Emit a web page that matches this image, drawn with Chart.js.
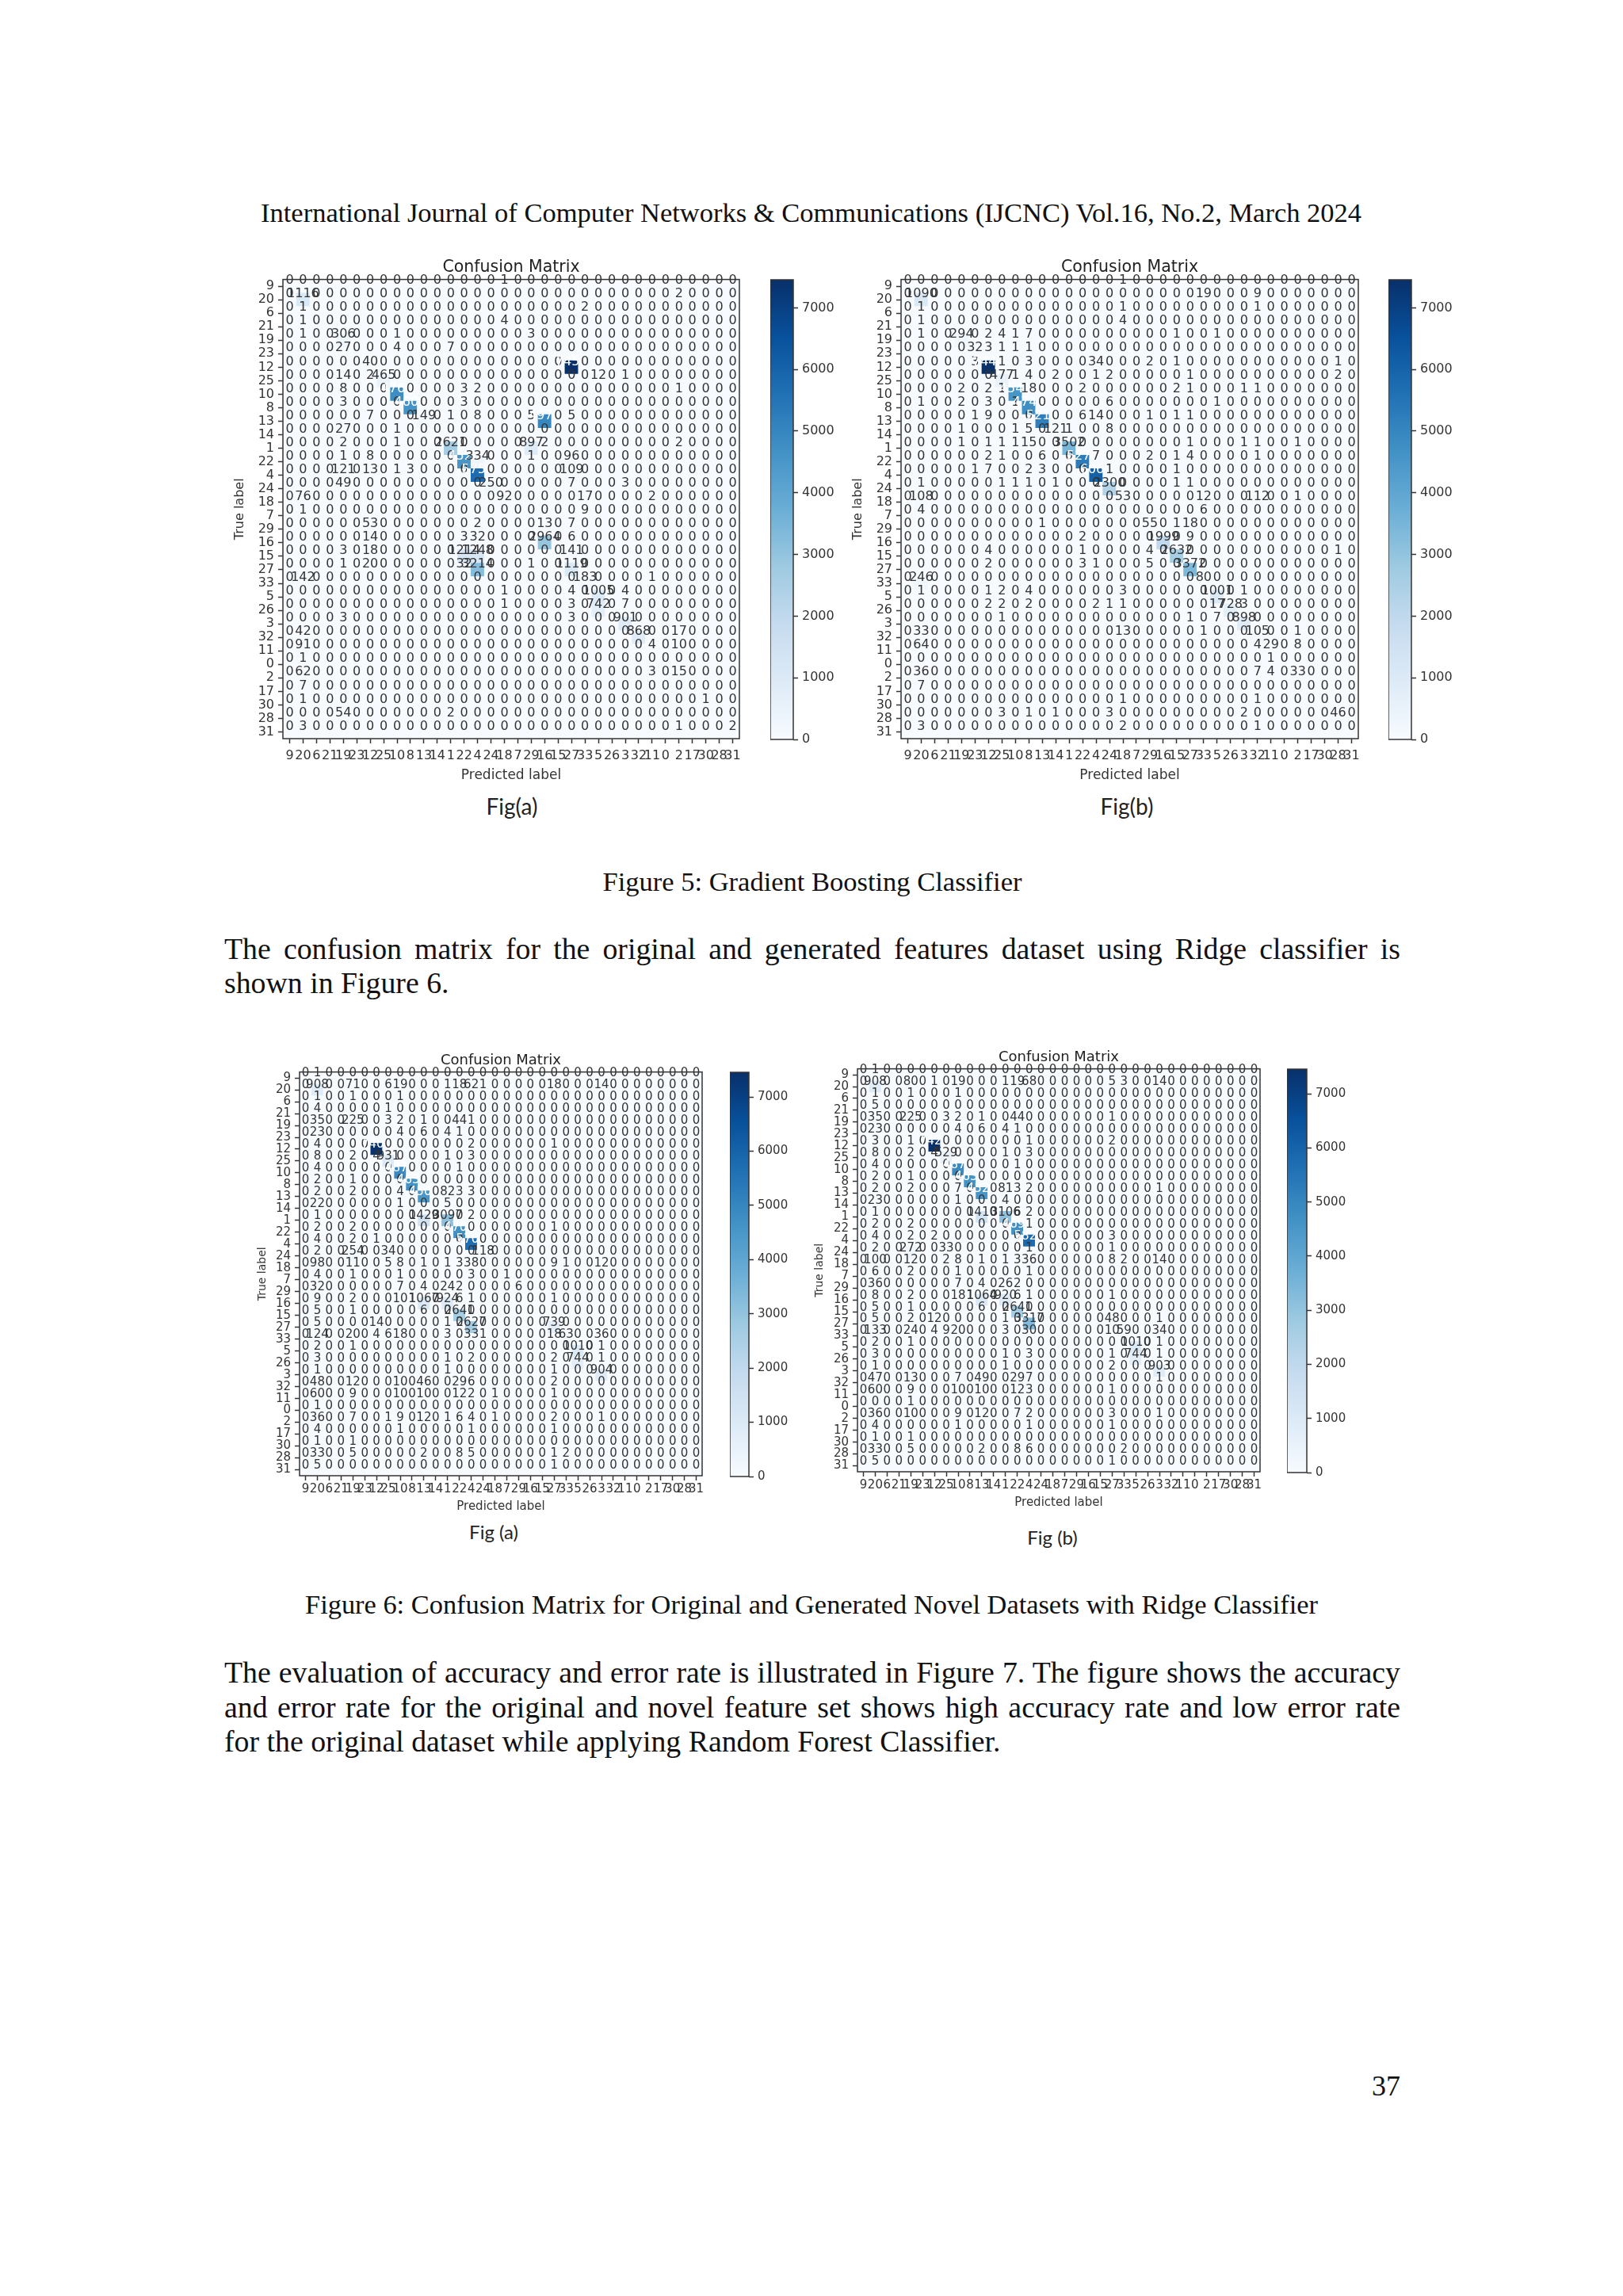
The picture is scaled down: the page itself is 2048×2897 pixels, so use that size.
<!DOCTYPE html>
<html lang="en">
<head>
    <meta charset="UTF-8">
    <title>Confusion matrices - IJCNC Vol.16, No.2, March 2024</title>
    <script src="https://cdn.jsdelivr.net/npm/chart.js@4"></script>
    <style>
        html, body { margin: 0; background: #fff; }
        body { position: relative; width: 2048px; height: 2897px; overflow: hidden; }
        canvas { position: absolute; filter: blur(0.5px); }
        .txt { position: absolute; font-family: "Liberation Serif", serif; color: #111; white-space: nowrap; }
        .body { left: 283px; width: 1484px; font-size: 37.8px; line-height: 44px; text-align: justify; text-align-last: justify; }
        .last { text-align-last: left; }
        .fig { font-family: Lato, sans-serif; color: #222; }
    </style>
</head>
<body>
    <div class="txt" style="left:329px;top:250px;font-size:34.5px;line-height:36px">International Journal of Computer Networks &amp; Communications (IJCNC) Vol.16, No.2, March 2024</div>

    <div class="txt fig" style="left:646px;top:1017px;font-size:28px;line-height:30px;transform:translate(-50%,-50%)">Fig(a)</div>
    <div class="txt fig" style="left:1422px;top:1017px;font-size:28px;line-height:30px;transform:translate(-50%,-50%)">Fig(b)</div>
    <div class="txt" style="left:1025px;top:1091px;font-size:34.5px;line-height:42px;transform:translateX(-50%)">Figure 5: Gradient Boosting Classifier</div>

    <div class="txt body" style="top:1175px">The confusion matrix for the original and generated features dataset using Ridge classifier is</div>
    <div class="txt body last" style="top:1218px">shown in Figure 6.</div>

    <div class="txt fig" style="left:623px;top:1933px;font-size:24px;line-height:30px;transform:translate(-50%,-50%)">Fig (a)</div>
    <div class="txt fig" style="left:1328px;top:1940px;font-size:24px;line-height:30px;transform:translate(-50%,-50%)">Fig (b)</div>
    <div class="txt" style="left:1024px;top:2003px;font-size:34.4px;line-height:42px;transform:translateX(-50%)">Figure 6: Confusion Matrix for Original and Generated Novel Datasets with Ridge Classifier</div>

    <div class="txt body" style="top:2088px">The evaluation of accuracy and error rate is illustrated in Figure 7. The figure shows the accuracy</div>
    <div class="txt body" style="top:2132px">and error rate for the original and novel feature set shows high accuracy rate and low error rate</div>
    <div class="txt body last" style="top:2175px">for the original dataset while applying Random Forest Classifier.</div>

    <div class="txt" style="left:1731px;top:2612px;font-size:36px;line-height:40px">37</div>

    <script>
        // class order used on both axes of every matrix
        var classLabels = ['9','20','6','21','19','23','12','25','10','8','13','14','1','22','4','24','18','7','29','16','15','27','33','5','26','3','32','11','0','2','17','30','28','31'];
        var colorbarTicks = [0, 1000, 2000, 3000, 4000, 5000, 6000, 7000];
        var colorbarMax = 7455;
        var blues = ['#f7fbff','#deebf7','#c6dbef','#9ecae1','#6baed6','#4292c6','#2171b5','#08519c','#08306b'];

        // Fig 5(a) gradient boosting, original features
        var matrixA = [
            [0,0,0,0,0,0,0,0,0,0, 0,0,0,0,0,0,1,0,0,0, 0,0,0,0,0,0,0,0,0,0, 0,0,0,0],
            [0,1116,0,0,0,0,0,0,0,0, 0,0,0,0,0,0,0,0,0,0, 0,0,0,0,0,0,0,0,0,2, 0,0,0,0],
            [0,1,0,0,0,0,0,0,0,0, 0,0,0,0,0,0,0,0,0,0, 0,0,2,0,0,0,0,0,0,0, 0,0,0,0],
            [0,1,0,0,0,0,0,0,0,0, 0,0,0,0,0,0,4,0,0,0, 0,0,0,0,0,0,0,0,0,0, 0,0,0,0],
            [0,1,0,0,306,0,0,0,1,0, 0,0,0,0,0,0,0,0,3,0, 0,0,0,0,0,0,0,0,0,0, 0,0,0,0],
            [0,0,0,0,27,0,0,0,4,0, 0,0,7,0,0,0,0,0,0,0, 0,0,0,0,0,0,0,0,0,0, 0,0,0,0],
            [0,0,0,0,0,0,40,0,0,0, 0,0,0,0,0,0,0,0,0,0, 0,7455,0,0,0,0,0,0,0,0, 0,0,0,0],
            [0,0,0,0,14,0,2,465,0,0, 0,0,0,0,0,0,0,0,0,0, 0,0,0,12,0,1,0,0,0,0, 0,0,0,0],
            [0,0,0,0,8,0,0,0,4760,0, 0,0,0,3,2,0,0,0,0,0, 0,0,0,0,0,0,0,0,0,1, 0,0,0,0],
            [0,0,0,0,3,0,0,0,0,4600, 0,0,0,3,0,0,0,0,0,0, 0,0,0,0,0,0,0,0,0,0, 0,0,0,0],
            [0,0,0,0,0,0,7,0,0,0, 149,0,1,0,8,0,0,0,5,4970, 0,5,0,0,0,0,0,0,0,0, 0,0,0,0],
            [0,0,0,0,27,0,0,0,1,0, 0,0,0,0,0,0,0,0,0,0, 0,0,0,0,0,0,0,0,0,0, 0,0,0,0],
            [0,0,0,0,2,0,0,0,1,0, 0,0,2621,0,0,0,0,0,897,2, 0,0,0,0,0,0,0,0,0,2, 0,0,0,0],
            [0,0,0,0,1,0,8,0,0,0, 0,0,0,4520,334,0,0,0,1,0, 0,96,0,0,0,0,0,0,0,0, 0,0,0,0],
            [0,0,0,0,121,0,13,0,1,3, 0,0,0,0,5750,0,0,0,0,0, 0,109,0,0,0,0,0,0,0,0, 0,0,0,0],
            [0,0,0,0,49,0,0,0,0,0, 0,0,0,0,0,250,0,0,0,0, 0,7,0,0,0,3,0,0,0,0, 0,0,0,0],
            [0,76,0,0,0,0,0,0,0,0, 0,0,0,0,0,0,92,0,0,0, 0,0,17,0,0,0,0,2,0,0, 0,0,0,0],
            [0,1,0,0,0,0,0,0,0,0, 0,0,0,0,0,0,0,0,0,0, 0,0,9,0,0,0,0,0,0,0, 0,0,0,0],
            [0,0,0,0,0,0,53,0,0,0, 0,0,0,0,2,0,0,0,0,13, 0,7,0,0,0,0,0,0,0,0, 0,0,0,0],
            [0,0,0,0,0,0,14,0,0,0, 0,0,0,3,32,0,0,0,0,2964, 0,6,0,0,0,0,0,0,0,0, 0,0,0,0],
            [0,0,0,0,3,0,18,0,0,0, 0,0,0,1214,1248,0,0,0,0,0, 0,141,0,0,0,0,0,0,0,0, 0,0,0,0],
            [0,0,0,0,1,0,20,0,0,0, 0,0,0,32,3214,0,0,0,1,0, 0,1119,0,0,0,0,0,0,0,0, 0,0,0,0],
            [0,142,0,0,0,0,0,0,0,0, 0,0,0,0,0,0,0,0,0,0, 0,0,183,0,0,0,0,1,0,0, 0,0,0,0],
            [0,0,0,0,0,0,0,0,0,0, 0,0,0,0,0,0,1,0,0,0, 0,4,0,1005,0,4,0,0,0,0, 0,0,0,0],
            [0,0,0,0,0,0,0,0,0,0, 0,0,0,0,0,0,1,0,0,0, 0,3,0,742,0,7,0,0,0,0, 0,0,0,0],
            [0,0,0,0,3,0,0,0,0,0, 0,0,0,0,0,0,0,0,0,0, 0,3,0,0,0,901,0,0,0,0, 0,0,0,0],
            [0,42,0,0,0,0,0,0,0,0, 0,0,0,0,0,0,0,0,0,0, 0,0,0,0,0,0,868,0,0,17, 0,0,0,0],
            [0,91,0,0,0,0,0,0,0,0, 0,0,0,0,0,0,0,0,0,0, 0,0,0,0,0,0,0,4,0,10, 0,0,0,0],
            [0,1,0,0,0,0,0,0,0,0, 0,0,0,0,0,0,0,0,0,0, 0,0,0,0,0,0,0,0,0,0, 0,0,0,0],
            [0,62,0,0,0,0,0,0,0,0, 0,0,0,0,0,0,0,0,0,0, 0,0,0,0,0,0,0,3,0,15, 0,0,0,0],
            [0,7,0,0,0,0,0,0,0,0, 0,0,0,0,0,0,0,0,0,0, 0,0,0,0,0,0,0,0,0,0, 0,0,0,0],
            [0,1,0,0,0,0,0,0,0,0, 0,0,0,0,0,0,0,0,0,0, 0,0,0,0,0,0,0,0,0,0, 0,1,0,0],
            [0,0,0,0,54,0,0,0,0,0, 0,0,2,0,0,0,0,0,0,0, 0,0,0,0,0,0,0,0,0,0, 0,0,0,0],
            [0,3,0,0,0,0,0,0,0,0, 0,0,0,0,0,0,0,0,0,0, 0,0,0,0,0,0,0,0,0,1, 0,0,0,2]
        ];

        // Fig 5(b) gradient boosting, generated features
        var matrixB = [
            [0,0,0,0,0,0,0,0,0,0, 0,0,0,0,0,0,1,0,0,0, 0,0,0,0,0,0,0,0,0,0, 0,0,0,0],
            [0,1090,0,0,0,0,0,0,0,0, 0,0,0,0,0,0,0,0,0,0, 0,0,19,0,0,0,9,0,0,0, 0,0,0,0],
            [0,1,0,0,0,0,0,0,0,0, 0,0,0,0,0,0,1,0,0,0, 0,0,0,0,0,0,1,0,0,0, 0,0,0,0],
            [0,1,0,0,0,0,0,0,0,0, 0,0,0,0,0,0,4,0,0,0, 0,0,0,0,0,0,0,0,0,0, 0,0,0,0],
            [0,1,0,0,294,0,2,4,1,7, 0,0,0,0,0,0,0,0,0,0, 1,0,0,1,0,0,0,0,0,0, 0,0,0,0],
            [0,0,0,0,0,32,3,1,1,1, 0,0,0,0,0,0,0,0,0,0, 0,0,0,0,0,0,0,0,0,0, 0,0,0,0],
            [0,0,0,0,0,3,7440,1,0,3, 0,0,0,0,34,0,0,0,2,0, 1,0,0,0,0,0,0,0,0,0, 0,0,1,0],
            [0,0,0,0,0,0,0,477,1,4, 0,2,0,0,1,2,0,0,0,0, 0,1,0,0,0,0,0,0,0,0, 0,0,2,0],
            [0,0,0,0,2,0,2,1,4540,18, 0,0,0,2,0,0,0,0,0,0, 2,1,0,0,0,1,1,0,0,0, 0,0,0,0],
            [0,1,0,0,2,0,3,0,1,4740, 0,0,0,0,0,6,0,0,0,0, 0,0,0,1,0,0,0,0,0,0, 0,0,0,0],
            [0,0,0,0,0,1,9,0,0,0, 5210,0,0,6,14,0,0,0,1,0, 1,1,0,0,0,0,0,0,0,0, 0,0,0,0],
            [0,0,0,0,1,0,0,0,1,5, 0,121,1,0,0,8,0,0,0,0, 0,0,0,0,0,0,0,0,0,0, 0,0,0,0],
            [0,0,0,0,1,0,1,1,1,15, 0,0,3502,0,0,0,0,0,0,0, 0,1,0,0,0,1,1,0,0,1, 0,0,0,0],
            [0,0,0,0,0,0,2,1,0,0, 6,0,0,5270,7,0,0,0,2,0, 1,4,0,0,0,0,1,0,0,0, 0,0,0,0],
            [0,0,0,0,0,1,7,0,0,2, 3,0,0,0,6060,1,0,0,0,0, 1,0,0,0,0,0,0,0,0,0, 0,0,0,0],
            [0,1,0,0,0,0,0,1,1,1, 0,1,0,0,0,2300,0,0,0,0, 1,1,0,0,0,0,0,0,0,0, 0,0,0,0],
            [0,108,0,0,0,0,0,0,0,0, 0,0,0,0,0,0,53,0,0,0, 0,0,12,0,0,0,112,0,0,1, 0,0,0,0],
            [0,4,0,0,0,0,0,0,0,0, 0,0,0,0,0,0,0,0,0,0, 0,0,6,0,0,0,0,0,0,0, 0,0,0,0],
            [0,0,0,0,0,0,0,0,0,0, 1,0,0,0,0,0,0,0,55,0, 1,18,0,0,0,0,0,0,0,0, 0,0,0,0],
            [0,0,0,0,0,0,0,0,0,0, 0,0,0,2,0,0,0,0,0,1999, 0,9,0,0,0,0,0,0,0,0, 0,0,0,0],
            [0,0,0,0,0,0,4,0,0,0, 0,0,0,1,0,0,0,0,4,0, 2632,0,0,0,0,0,0,0,0,0, 0,0,1,0],
            [0,0,0,0,0,0,2,0,0,0, 0,0,0,3,1,0,0,0,5,0, 0,3372,0,0,0,0,0,0,0,0, 0,0,0,0],
            [0,246,0,0,0,0,0,0,0,0, 0,0,0,0,0,0,0,0,0,0, 0,0,80,0,0,0,0,0,0,0, 0,0,0,0],
            [0,1,0,0,0,0,1,2,0,4, 0,0,0,0,0,0,3,0,0,0, 0,0,0,1001,0,1,0,0,0,0, 0,0,0,0],
            [0,0,0,0,0,0,2,2,0,2, 0,0,0,0,2,1,1,0,0,0, 0,0,0,17,728,3,0,0,0,0, 0,0,0,0],
            [0,0,0,0,0,0,0,1,0,0, 0,0,0,0,0,0,0,0,0,0, 0,1,0,7,0,898,0,0,0,0, 0,0,0,0],
            [0,33,0,0,0,0,0,0,0,0, 0,0,0,0,0,0,13,0,0,0, 0,0,1,0,0,0,105,0,0,1, 0,0,0,0],
            [0,64,0,0,0,0,0,0,0,0, 0,0,0,0,0,0,0,0,0,0, 0,0,0,0,0,0,4,29,0,8, 0,0,0,0],
            [0,0,0,0,0,0,0,0,0,0, 0,0,0,0,0,0,0,0,0,0, 0,0,0,0,0,0,0,1,0,0, 0,0,0,0],
            [0,36,0,0,0,0,0,0,0,0, 0,0,0,0,0,0,0,0,0,0, 0,0,0,0,0,0,7,4,0,33, 0,0,0,0],
            [0,7,0,0,0,0,0,0,0,0, 0,0,0,0,0,0,0,0,0,0, 0,0,0,0,0,0,0,0,0,0, 0,0,0,0],
            [0,0,0,0,0,0,0,0,0,0, 0,0,0,0,0,0,1,0,0,0, 0,0,0,0,0,0,1,0,0,0, 0,0,0,0],
            [0,0,0,0,0,0,0,3,0,1, 0,1,0,0,0,3,0,0,0,0, 0,0,0,0,0,2,0,0,0,0, 0,0,46,0],
            [0,3,0,0,0,0,0,0,0,0, 0,0,0,0,0,0,2,0,0,0, 0,0,0,0,0,0,1,0,0,0, 0,0,0,0]
        ];

        // Fig 6(a) ridge classifier, original features
        var matrixC = [
            [0,1,0,0,0,0,0,0,0,0, 0,0,0,0,0,0,0,0,0,0, 0,0,0,0,0,0,0,0,0,0, 0,0,0,0],
            [0,908,0,0,71,0,0,6,19,0, 0,0,1,18,62,1,0,0,0,0, 0,18,0,0,0,14,0,0,0,0, 0,0,0,0],
            [0,1,0,0,1,0,0,0,1,0, 0,0,0,0,0,0,0,0,0,0, 0,0,0,0,0,0,0,0,0,0, 0,0,0,0],
            [0,4,0,0,0,0,0,1,0,0, 0,0,0,0,0,0,0,0,0,0, 0,0,0,0,0,0,0,0,0,0, 0,0,0,0],
            [0,35,0,0,225,0,0,3,2,0, 1,0,0,44,1,0,0,0,0,0, 0,0,0,0,0,0,0,0,0,0, 0,0,0,0],
            [0,23,0,0,0,0,0,0,4,0, 6,0,4,1,0,0,0,0,0,0, 0,0,0,0,0,0,0,0,0,0, 0,0,0,0],
            [0,4,0,0,0,0,7400,0,0,0, 0,0,0,0,2,0,0,0,0,0, 0,1,0,0,0,0,0,0,0,0, 0,0,0,0],
            [0,8,0,0,2,0,4,931,0,0, 0,0,1,0,3,0,0,0,0,0, 0,0,0,0,0,0,0,0,0,0, 0,0,0,0],
            [0,4,0,0,0,0,0,0,4870,0, 0,0,0,1,0,0,0,0,0,0, 0,0,0,0,0,0,0,0,0,0, 0,0,0,0],
            [0,2,0,0,1,0,0,0,0,4630, 0,0,0,0,0,0,0,0,0,0, 0,0,0,0,0,0,0,0,0,0, 0,0,0,0],
            [0,2,0,0,2,0,0,0,4,0, 4500,0,82,3,3,0,0,0,0,0, 0,0,0,0,0,0,0,0,0,0, 0,0,0,0],
            [0,22,0,0,0,0,0,0,1,0, 0,0,5,0,0,0,0,0,0,0, 0,0,0,0,0,0,0,0,0,0, 0,0,0,0],
            [0,1,0,0,0,0,0,0,0,0, 1429,0,3097,0,2,0,0,0,0,0, 0,0,0,0,0,0,0,0,0,0, 0,0,0,0],
            [0,2,0,0,2,0,0,0,0,0, 0,0,0,4700,0,0,0,0,0,0, 0,1,0,0,0,0,0,0,0,0, 0,0,0,0],
            [0,4,0,0,2,0,1,0,0,0, 0,0,0,0,5700,0,0,0,0,0, 0,0,0,0,0,0,0,0,0,0, 0,0,0,0],
            [0,2,0,0,254,0,0,34,0,0, 0,0,0,0,0,118,0,0,0,0, 0,0,0,0,0,0,0,0,0,0, 0,0,0,0],
            [0,98,0,0,11,0,0,5,8,0, 1,0,1,3,38,0,0,0,0,0, 0,9,1,0,0,12,0,0,0,0, 0,0,0,0],
            [0,4,0,0,1,0,0,0,1,0, 0,0,0,0,3,0,0,1,0,0, 0,0,0,0,0,0,0,0,0,0, 0,0,0,0],
            [0,32,0,0,0,0,0,0,7,0, 4,0,24,2,0,0,0,0,6,0, 0,0,0,0,0,0,0,0,0,0, 0,0,0,0],
            [0,9,0,0,2,0,0,0,10,1, 1067,0,924,6,1,0,0,0,0,0, 0,1,0,0,0,0,0,0,0,0, 0,0,0,0],
            [0,5,0,0,1,0,0,0,0,0, 6,0,0,2641,0,0,0,0,0,0, 0,0,0,0,0,0,0,0,0,0, 0,0,0,0],
            [0,5,0,0,0,0,14,0,0,0, 0,0,1,0,2627,0,0,0,0,0, 0,739,0,0,0,0,0,0,0,0, 0,0,0,0],
            [0,124,0,0,20,0,4,6,18,0, 0,0,3,0,33,1,0,0,0,0, 0,18,63,0,0,36,0,0,0,0, 0,0,0,0],
            [0,2,0,0,1,0,0,0,0,0, 0,0,0,0,0,0,0,0,0,0, 0,0,0,1010,0,1,0,0,0,0, 0,0,0,0],
            [0,3,0,0,0,0,0,0,0,0, 0,0,1,0,2,0,0,0,0,0, 0,2,0,744,0,1,0,0,0,0, 0,0,0,0],
            [0,1,0,0,0,0,0,0,0,0, 0,0,1,0,0,0,0,0,0,0, 0,1,0,0,0,904,0,0,0,0, 0,0,0,0],
            [0,48,0,0,12,0,0,0,10,0, 46,0,0,29,6,0,0,0,0,0, 0,2,0,0,0,0,0,0,0,0, 0,0,0,0],
            [0,60,0,0,9,0,0,0,10,0, 10,0,0,12,2,0,1,0,0,0, 0,1,0,0,0,0,0,0,0,0, 0,0,0,0],
            [0,1,0,0,0,0,0,0,0,0, 0,0,0,0,0,0,0,0,0,0, 0,0,0,0,0,0,0,0,0,0, 0,0,0,0],
            [0,36,0,0,7,0,0,1,9,0, 12,0,1,6,4,0,1,0,0,0, 0,2,0,0,0,1,0,0,0,0, 0,0,0,0],
            [0,4,0,0,0,0,0,0,1,0, 0,0,0,0,1,0,0,0,0,0, 0,1,0,0,0,0,0,0,0,0, 0,0,0,0],
            [0,1,0,0,1,0,0,0,0,0, 0,0,0,0,0,0,0,0,0,0, 0,0,0,0,0,0,0,0,0,0, 0,0,0,0],
            [0,33,0,0,5,0,0,0,0,0, 2,0,0,8,5,0,0,0,0,0, 0,1,2,0,0,0,0,0,0,0, 0,0,0,0],
            [0,5,0,0,0,0,0,0,0,0, 0,0,0,0,0,0,0,0,0,0, 0,1,0,0,0,0,0,0,0,0, 0,0,0,0]
        ];

        // Fig 6(b) ridge classifier, generated features
        var matrixD = [
            [0,1,0,0,0,0,0,0,0,0, 0,0,0,0,0,0,0,0,0,0, 0,0,0,0,0,0,0,0,0,0, 0,0,0,0],
            [0,908,0,0,80,0,1,0,19,0, 0,0,1,19,68,0,0,0,0,0, 0,5,3,0,0,14,0,0,0,0, 0,0,0,0],
            [0,1,0,0,1,0,0,0,1,0, 0,0,0,0,0,0,0,0,0,0, 0,0,0,0,0,0,0,0,0,0, 0,0,0,0],
            [0,5,0,0,0,0,0,0,0,0, 0,0,0,0,0,0,0,0,0,0, 0,0,0,0,0,0,0,0,0,0, 0,0,0,0],
            [0,35,0,0,225,0,0,3,2,0, 1,0,0,44,0,0,0,0,0,0, 0,1,0,0,0,0,0,0,0,0, 0,0,0,0],
            [0,23,0,0,0,0,0,0,4,0, 6,0,4,1,0,0,0,0,0,0, 0,0,0,0,0,0,0,0,0,0, 0,0,0,0],
            [0,3,0,0,1,0,7420,0,0,0, 0,0,0,0,1,0,0,0,0,0, 0,2,0,0,0,0,0,0,0,0, 0,0,0,0],
            [0,8,0,0,2,0,4,529,0,0, 0,0,1,0,3,0,0,0,0,0, 0,0,0,0,0,0,0,0,0,0, 0,0,0,0],
            [0,4,0,0,0,0,0,0,4870,0, 0,0,0,1,0,0,0,0,0,0, 0,0,0,0,0,0,0,0,0,0, 0,0,0,0],
            [0,2,0,0,1,0,0,0,0,4630, 0,0,0,0,0,0,0,0,0,0, 0,0,0,0,0,0,0,0,0,0, 0,0,0,0],
            [0,2,0,0,2,0,0,0,7,0, 4520,0,81,3,2,0,0,0,0,0, 0,0,0,0,0,1,0,0,0,0, 0,0,0,0],
            [0,23,0,0,0,0,0,0,1,0, 0,0,4,0,0,0,0,0,0,0, 0,0,0,0,0,0,0,0,0,0, 0,0,0,0],
            [0,1,0,0,0,0,0,0,0,0, 1410,0,3106,6,2,0,0,0,0,0, 0,0,0,0,0,0,0,0,0,0, 0,0,0,0],
            [0,2,0,0,2,0,0,0,0,0, 0,0,0,4690,1,0,0,0,0,0, 0,0,0,0,0,0,0,0,0,0, 0,0,0,0],
            [0,4,0,0,2,0,2,0,0,0, 0,0,0,0,5820,0,0,0,0,0, 0,3,0,0,0,0,0,0,0,0, 0,0,0,0],
            [0,2,0,0,272,0,0,33,0,0, 0,0,0,0,1,0,0,0,0,0, 0,1,0,0,0,0,0,0,0,0, 0,0,0,0],
            [0,100,0,0,12,0,0,2,8,0, 1,0,1,3,36,0,0,0,0,0, 0,8,2,0,0,14,0,0,0,0, 0,0,0,0],
            [0,6,0,0,2,0,0,0,1,0, 0,0,0,0,1,0,0,0,0,0, 0,0,0,0,0,0,0,0,0,0, 0,0,0,0],
            [0,36,0,0,0,0,0,0,7,0, 4,0,26,2,0,0,0,0,0,0, 0,0,0,0,0,0,0,0,0,0, 0,0,0,0],
            [0,8,0,0,2,0,0,0,18,1, 1064,0,920,6,1,0,0,0,0,0, 0,1,0,0,0,0,0,0,0,0, 0,0,0,0],
            [0,5,0,0,1,0,0,0,0,0, 6,0,0,2641,0,0,0,0,0,0, 0,0,0,0,0,0,0,0,0,0, 0,0,0,0],
            [0,5,0,0,2,0,12,0,0,0, 0,0,1,0,3317,0,0,0,0,0, 0,48,0,0,0,1,0,0,0,0, 0,0,0,0],
            [0,133,0,0,24,0,4,9,20,0, 0,0,3,0,30,0,0,0,0,0, 0,10,59,0,0,34,0,0,0,0, 0,0,0,0],
            [0,2,0,0,1,0,0,0,0,0, 0,0,0,0,0,0,0,0,0,0, 0,0,0,1010,0,1,0,0,0,0, 0,0,0,0],
            [0,3,0,0,0,0,0,0,0,0, 0,0,1,0,3,0,0,0,0,0, 0,1,0,744,0,1,0,0,0,0, 0,0,0,0],
            [0,1,0,0,0,0,0,0,0,0, 0,0,1,0,0,0,0,0,0,0, 0,2,0,0,0,903,0,0,0,0, 0,0,0,0],
            [0,47,0,0,13,0,0,0,7,0, 49,0,0,29,7,0,0,0,0,0, 0,0,0,0,0,1,0,0,0,0, 0,0,0,0],
            [0,60,0,0,9,0,0,0,10,0, 10,0,0,12,3,0,0,0,0,0, 0,1,0,0,0,0,0,0,0,0, 0,0,0,0],
            [0,0,0,0,1,0,0,0,0,0, 0,0,0,0,0,0,0,0,0,0, 0,0,0,0,0,0,0,0,0,0, 0,0,0,0],
            [0,36,0,0,10,0,0,0,9,0, 12,0,0,7,2,0,0,0,0,0, 0,3,0,0,0,1,0,0,0,0, 0,0,0,0],
            [0,4,0,0,0,0,0,0,1,0, 0,0,0,0,1,0,0,0,0,0, 0,1,0,0,0,0,0,0,0,0, 0,0,0,0],
            [0,1,0,0,1,0,0,0,0,0, 0,0,0,0,0,0,0,0,0,0, 0,0,0,0,0,0,0,0,0,0, 0,0,0,0],
            [0,33,0,0,5,0,0,0,0,0, 2,0,0,8,6,0,0,0,0,0, 0,0,2,0,0,0,0,0,0,0, 0,0,0,0],
            [0,5,0,0,0,0,0,0,0,0, 0,0,0,0,0,0,0,0,0,0, 0,1,0,0,0,0,0,0,0,0, 0,0,0,0]
        ];

        var ink = '#333333';
        var whiteTextFrom = colorbarMax / 2;

        // where each panel sits on the page
        var panels = [
            { matrix: matrixA, left: 357, top: 353, w: 576, h: 580, cbLeft: 972, cbW: 29, titleSize: 20.5, tickSize: 16, labelSize: 17, cellSize: 16, textUp: 7, yBox: 64, xBox: 57, tickPad: 6 },
            { matrix: matrixB, left: 1137, top: 353, w: 577, h: 580, cbLeft: 1752, cbW: 29, titleSize: 20.5, tickSize: 16, labelSize: 17, cellSize: 16, textUp: 7, yBox: 64, xBox: 57, tickPad: 6 },
            { matrix: matrixC, left: 378, top: 1353, w: 508, h: 510, cbLeft: 921, cbW: 24, titleSize: 18, tickSize: 15, labelSize: 15, cellSize: 15, textUp: 5.5, yBox: 55, xBox: 48, tickPad: 2 },
            { matrix: matrixD, left: 1082, top: 1349, w: 508, h: 509, cbLeft: 1624, cbW: 25, titleSize: 18, tickSize: 15, labelSize: 15, cellSize: 15, textUp: 5.5, yBox: 56, xBox: 48, tickPad: 2 }
        ];

        function hexToRgb(hex) {
            return [1, 3, 5].map(function (i) { return parseInt(hex.substr(i, 2), 16); });
        }

        function bluesColor(value) {
            var t = Math.min(value / colorbarMax, 1) * (blues.length - 1);
            var i = Math.min(Math.floor(t), blues.length - 2);
            var a = hexToRgb(blues[i]), b = hexToRgb(blues[i + 1]);
            var f = t - i;
            return 'rgb(' + a.map(function (v, k) { return Math.round(v + (b[k] - v) * f); }).join(',') + ')';
        }

        function matrixPoints(matrix) {
            var points = [];
            matrix.forEach(function (row, r) {
                row.forEach(function (v, c) {
                    points.push({ x: classLabels[c], y: classLabels[r], v: v });
                });
            });
            return points;
        }

        function addCanvas(left, top, width, height) {
            var canvas = document.createElement('canvas');
            canvas.width = width;
            canvas.height = height;
            canvas.style.left = left + 'px';
            canvas.style.top = top + 'px';
            document.body.appendChild(canvas);
            return canvas.getContext('2d');
        }

        // frame all round the axes, the title over the axes, then the count printed in every cell
        var cellText = {
            id: 'cellText',
            afterDatasetsDraw: function (chart, args, opts) {
                var ctx = chart.ctx, area = chart.chartArea;
                ctx.save();
                ctx.strokeStyle = ink;
                ctx.lineWidth = 1.5;
                ctx.strokeRect(area.left, area.top, area.right - area.left, area.bottom - area.top);
                ctx.textAlign = 'center';
                ctx.textBaseline = 'middle';
                ctx.fillStyle = '#222';
                ctx.font = opts.titleSize + 'px "DejaVu Sans"';
                ctx.fillText('Confusion Matrix', (area.left + area.right) / 2, area.top - opts.titleSize * 0.6 - 3);
                ctx.font = opts.size + 'px "DejaVu Sans"';
                chart.getDatasetMeta(0).data.forEach(function (el) {
                    var v = el.$context.raw.v;
                    ctx.fillStyle = v > whiteTextFrom ? '#ffffff' : ink;
                    ctx.fillText(String(v), el.x, el.y - opts.up);
                });
                ctx.restore();
            }
        };

        var barFrame = {
            id: 'barFrame',
            afterDatasetsDraw: function (chart) {
                var area = chart.chartArea;
                chart.ctx.save();
                chart.ctx.strokeStyle = ink;
                chart.ctx.lineWidth = 1.5;
                chart.ctx.strokeRect(area.left, area.top, area.right - area.left, area.bottom - area.top);
                chart.ctx.restore();
            }
        };

        function axisFit(size, vertical) {
            return function (scale) {
                if (vertical) { scale.width = size; } else { scale.height = size; }
                scale.paddingLeft = scale.paddingRight = scale.paddingTop = scale.paddingBottom = 0;
            };
        }

        function drawMatrix(p) {
            var titleBox = p.titleSize * 1.2 + 5;
            var ctx = addCanvas(p.left - p.yBox, p.top - titleBox, p.w + p.yBox * 2, p.h + titleBox + p.xBox);
            var fontFamily = '"DejaVu Sans"';
            var radius = Math.max(p.w, p.h) / classLabels.length * Math.SQRT1_2 + 0.2;
            new Chart(ctx, {
                type: 'scatter',
                data: {
                    datasets: [{
                        data: matrixPoints(p.matrix),
                        pointStyle: 'rect',
                        pointRadius: radius,
                        pointBorderWidth: 0,
                        pointBackgroundColor: function (c) { return c.raw ? bluesColor(c.raw.v) : blues[0]; }
                    }]
                },
                options: {
                    responsive: false,
                    animation: false,
                    layout: { padding: { top: titleBox, right: p.yBox } },
                    scales: {
                        x: {
                            type: 'category',
                            labels: classLabels,
                            offset: true,
                            afterFit: axisFit(p.xBox, false),
                            grid: { drawOnChartArea: false, drawTicks: true, tickLength: 6, tickColor: ink, tickWidth: 1.5 },
                            border: { display: false },
                            ticks: { autoSkip: false, maxRotation: 0, minRotation: 0, padding: p.tickPad, color: ink, font: { family: fontFamily, size: p.tickSize } },
                            title: { display: true, text: 'Predicted label', color: ink, padding: 0, font: { family: fontFamily, size: p.labelSize } }
                        },
                        y: {
                            type: 'category',
                            labels: classLabels,
                            offset: true,
                            afterFit: axisFit(p.yBox, true),
                            grid: { drawOnChartArea: false, drawTicks: true, tickLength: 6, tickColor: ink, tickWidth: 1.5 },
                            border: { display: false },
                            ticks: { autoSkip: false, padding: 5, color: ink, font: { family: fontFamily, size: p.tickSize } },
                            title: { display: true, text: 'True label', color: ink, padding: 0, font: { family: fontFamily, size: p.labelSize - 1 } }
                        }
                    },
                    plugins: {
                        legend: { display: false },
                        tooltip: { enabled: false },
                        title: { display: false },
                        cellText: { size: p.cellSize, up: p.textUp, titleSize: p.titleSize }
                    }
                },
                plugins: [cellText]
            });
        }

        function drawColorbar(p) {
            var pad = 12, labelBox = 66;
            var ctx = addCanvas(p.cbLeft, p.top - pad, p.cbW + labelBox, p.h + pad * 2);
            new Chart(ctx, {
                type: 'bar',
                data: {
                    labels: [''],
                    datasets: [{
                        data: [[0, colorbarMax]],
                        barPercentage: 1,
                        categoryPercentage: 1,
                        backgroundColor: function (c) {
                            var area = c.chart.chartArea;
                            if (!area) { return blues[4]; }
                            var g = c.chart.ctx.createLinearGradient(0, area.bottom, 0, area.top);
                            blues.forEach(function (col, i) { g.addColorStop(i / (blues.length - 1), col); });
                            return g;
                        }
                    }]
                },
                options: {
                    responsive: false,
                    animation: false,
                    layout: { padding: { top: pad, bottom: pad } },
                    scales: {
                        x: { display: false },
                        y: {
                            position: 'right',
                            min: 0,
                            max: colorbarMax,
                            afterBuildTicks: function (axis) {
                                axis.ticks = colorbarTicks.map(function (v) { return { value: v }; });
                            },
                            afterFit: axisFit(labelBox, true),
                            grid: { drawOnChartArea: false, drawTicks: true, tickLength: 6, tickColor: ink, tickWidth: 1.5 },
                            border: { display: false },
                            ticks: {
                                padding: 5,
                                color: ink,
                                font: { family: '"DejaVu Sans"', size: p.tickSize },
                                callback: function (v) { return String(v); }
                            }
                        }
                    },
                    plugins: { legend: { display: false }, tooltip: { enabled: false } }
                },
                plugins: [barFrame]
            });
        }

        panels.forEach(function (p) {
            drawMatrix(p);
            drawColorbar(p);
        });
    </script>
</body>
</html>
